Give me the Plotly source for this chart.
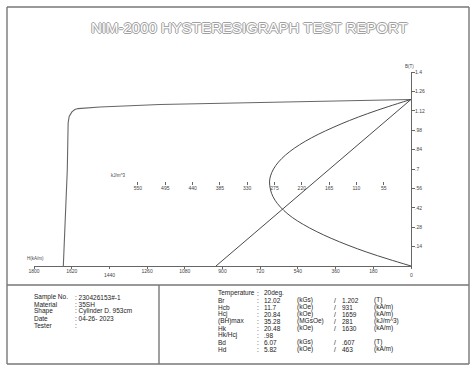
import plotly.graph_objects as go

# ---------------- data ----------------
# intrinsic curve J(H)
h_j = [0, 530, 1008, 1199, 1485, 1590, 1605, 1619, 1632, 1637, 1641, 1652, 1660]
j_vals = [1.202, 1.186, 1.172, 1.165, 1.147, 1.136, 1.129, 1.112, 1.080, 1.033, 0.696, 0.335, 0.0]
# normal curve B(H)
h_b = [0, 931]
b_vals = [1.202, 0.0]
# energy product curve (BH vs B)
bh_b = [0, 0.05, 0.1, 0.15, 0.2, 0.25, 0.3, 0.35, 0.4, 0.45, 0.5, 0.55, 0.607,
        0.65, 0.7, 0.75, 0.8, 0.85, 0.9, 0.95, 1.0, 1.05, 1.1, 1.15, 1.202]
bh_vals = [0, 46, 89, 127, 161, 191, 217, 239, 256, 269, 278, 283, 285,
           283, 277, 267, 253, 235, 213, 187, 157, 124, 87, 46, 0]

h_ticks = [1800, 1620, 1440, 1260, 1080, 900, 720, 540, 360, 180, 0]
h_labels = ["1800", "1620", "", "1260", "1080", "900", "720", "540", "360", "180", ""]
h_low_ticks = [1440, 0]
h_low_labels = ["1440", "0"]
b_ticks = [0.14, 0.28, 0.42, 0.56, 0.7, 0.84, 0.98, 1.12, 1.26, 1.4]
b_labels = [".14", ".28", ".42", ".56", ".7", ".84", ".98", "1.12", "1.26", "1.4"]
bh_ticks = [550, 495, 440, 385, 330, 275, 220, 165, 110, 55]

sample_labels = ["Sample No.", "Material", "Shape", "Date", "Tester"]
sample_values = [": 230426153#-1", ": 35SH", ": Cylinder D. 953cm", ": 04-26- 2023", ":"]

param_names = ["Temperature", "Br", "Hcb", "Hcj", "(BH)max", "Hk", "Hk/Hcj", "Bd", "Hd"]
param_val1 = ["20deg.", "12.02", "11.7", "20.84", "35.28", "20.48", ".98", "6.07", "5.82"]
param_unit1 = ["", "(kGs)", "(kOe)", "(kOe)", "(MGsOe)", "(kOe)", "", "(kGs)", "(kOe)"]
param_val2 = ["", "1.202", "931", "1659", "281", "1630", "", ".607", "463"]
param_unit2 = ["", "(T)", "(kA/m)", "(kA/m)", "(kJ/m^3)", "(kA/m)", "", "(T)", "(kA/m)"]

# ---------------- layout helpers ----------------
W, H = 474, 375
L, R, T, B = 34, 63, 72, 109
PW, PH = W - L - R, H - T - B


def px(x, y):
    return (x - L) / PW, (H - B - y) / PH


line_col = "#4a4a4a"
fig = go.Figure()
fig.add_trace(go.Scatter(x=h_j, y=j_vals, mode="lines", line=dict(color="#666", width=1.1),
                         xaxis="x", yaxis="y", showlegend=False, hoverinfo="skip"))
fig.add_trace(go.Scatter(x=h_b, y=b_vals, mode="lines", line=dict(color=line_col, width=1.0),
                         xaxis="x", yaxis="y", showlegend=False, hoverinfo="skip"))
fig.add_trace(go.Scatter(x=bh_vals, y=bh_b, mode="lines", line=dict(color=line_col, width=1.0),
                         line_shape="spline", xaxis="x2", yaxis="y", showlegend=False,
                         hoverinfo="skip"))

tickfont = dict(family="Liberation Sans, Arial", size=5, color="#444")
fig.update_layout(
    width=W, height=H, margin=dict(l=L, r=R, t=T, b=B),
    paper_bgcolor="white", plot_bgcolor="white",
    xaxis=dict(range=[1800, 0], tickvals=h_ticks, ticktext=h_labels, showgrid=False,
               zeroline=False, showline=True, linecolor="#666", linewidth=1,
               ticks="outside", ticklen=2, tickcolor="#666", tickfont=tickfont,
               ticklabelstandoff=-2),
    xaxis2=dict(range=[PW / 0.4964, 0], overlaying="x", anchor="free",
                position=(H - B - 181) / PH, side="bottom", tickvals=bh_ticks,
                showgrid=False, zeroline=False, showline=False, ticks="outside",
                ticklen=3, tickcolor="#666", tickfont=tickfont, ticklabelstandoff=-1),
    yaxis=dict(range=[0, 1.4], side="right", tickvals=b_ticks, ticktext=b_labels,
               showgrid=False, zeroline=False, showline=True, linecolor="#666",
               linewidth=1, ticks="outside", ticklen=3, tickcolor="#666",
               tickfont=tickfont, ticklabelstandoff=-1),
)

shapes = []
bc = "#777"


def seg(x0, y0, x1, y1, w=1.4):
    a = px(x0, y0)
    b = px(x1, y1)
    shapes.append(dict(type="line", xref="paper", yref="paper", x0=a[0], y0=a[1],
                       x1=b[0], y1=b[1], line=dict(color=bc, width=w)))


seg(7, 7, 469, 7)
seg(7, 7, 7, 364)
seg(469, 7, 469, 364)
seg(7, 364, 469, 364)
seg(7, 285, 469, 285)
seg(159, 285, 159, 364)
fig.update_layout(shapes=shapes)

ann = []


def text(x, y, s, size=6.5, color="#222", family="Liberation Sans, Arial",
         xanchor="left", **kw):
    p = px(x, y)
    ann.append(dict(x=p[0], y=p[1], xref="paper", yref="paper", text=s, showarrow=False,
                    xanchor=xanchor, yanchor="middle",
                    font=dict(size=size, color=color, family=family, **kw)))


# staggered (lower) H tick labels, placed on the H scale
for v, s in zip(h_low_ticks, h_low_labels):
    ann.append(dict(x=v, xref="x", y=px(0, 275)[1], yref="paper", text=s, showarrow=False,
                    xanchor="center", yanchor="middle", font=tickfont))

text(249, 28, "NIM-2000 HYSTERESIGRAPH TEST REPORT", size=15, color="#ffffff",
     xanchor="center",
     shadow="1px 0 0 #a0a0a0, -1px 0 0 #a0a0a0, 0 1px 0 #a0a0a0, 0 -1px 0 #a0a0a0")
text(409, 66, "B(T)", size=4.5, color="#444", xanchor="center")
text(35, 258, "H(kA/m)", size=4.5, color="#444", xanchor="center")
text(118, 175, "kJ/m^3", size=4.5, color="#444", xanchor="center")

for i, (lab, val) in enumerate(zip(sample_labels, sample_values)):
    y = 297 + 7 * i
    text(32, y, lab)
    text(73, y, val)

for i in range(len(param_names)):
    y = 293 + 7 * i
    text(216, y, param_names[i])
    text(255, y, ":")
    text(262, y, param_val1[i])
    if param_unit1[i]:
        text(295, y, param_unit1[i])
    if param_val2[i]:
        text(332, y, "/")
        text(340, y, param_val2[i])
        text(372, y, param_unit2[i])

fig.update_layout(annotations=ann)
fig.write_html("out.html", config={"displayModeBar": False},
               post_script="document.body.style.margin='0';")
